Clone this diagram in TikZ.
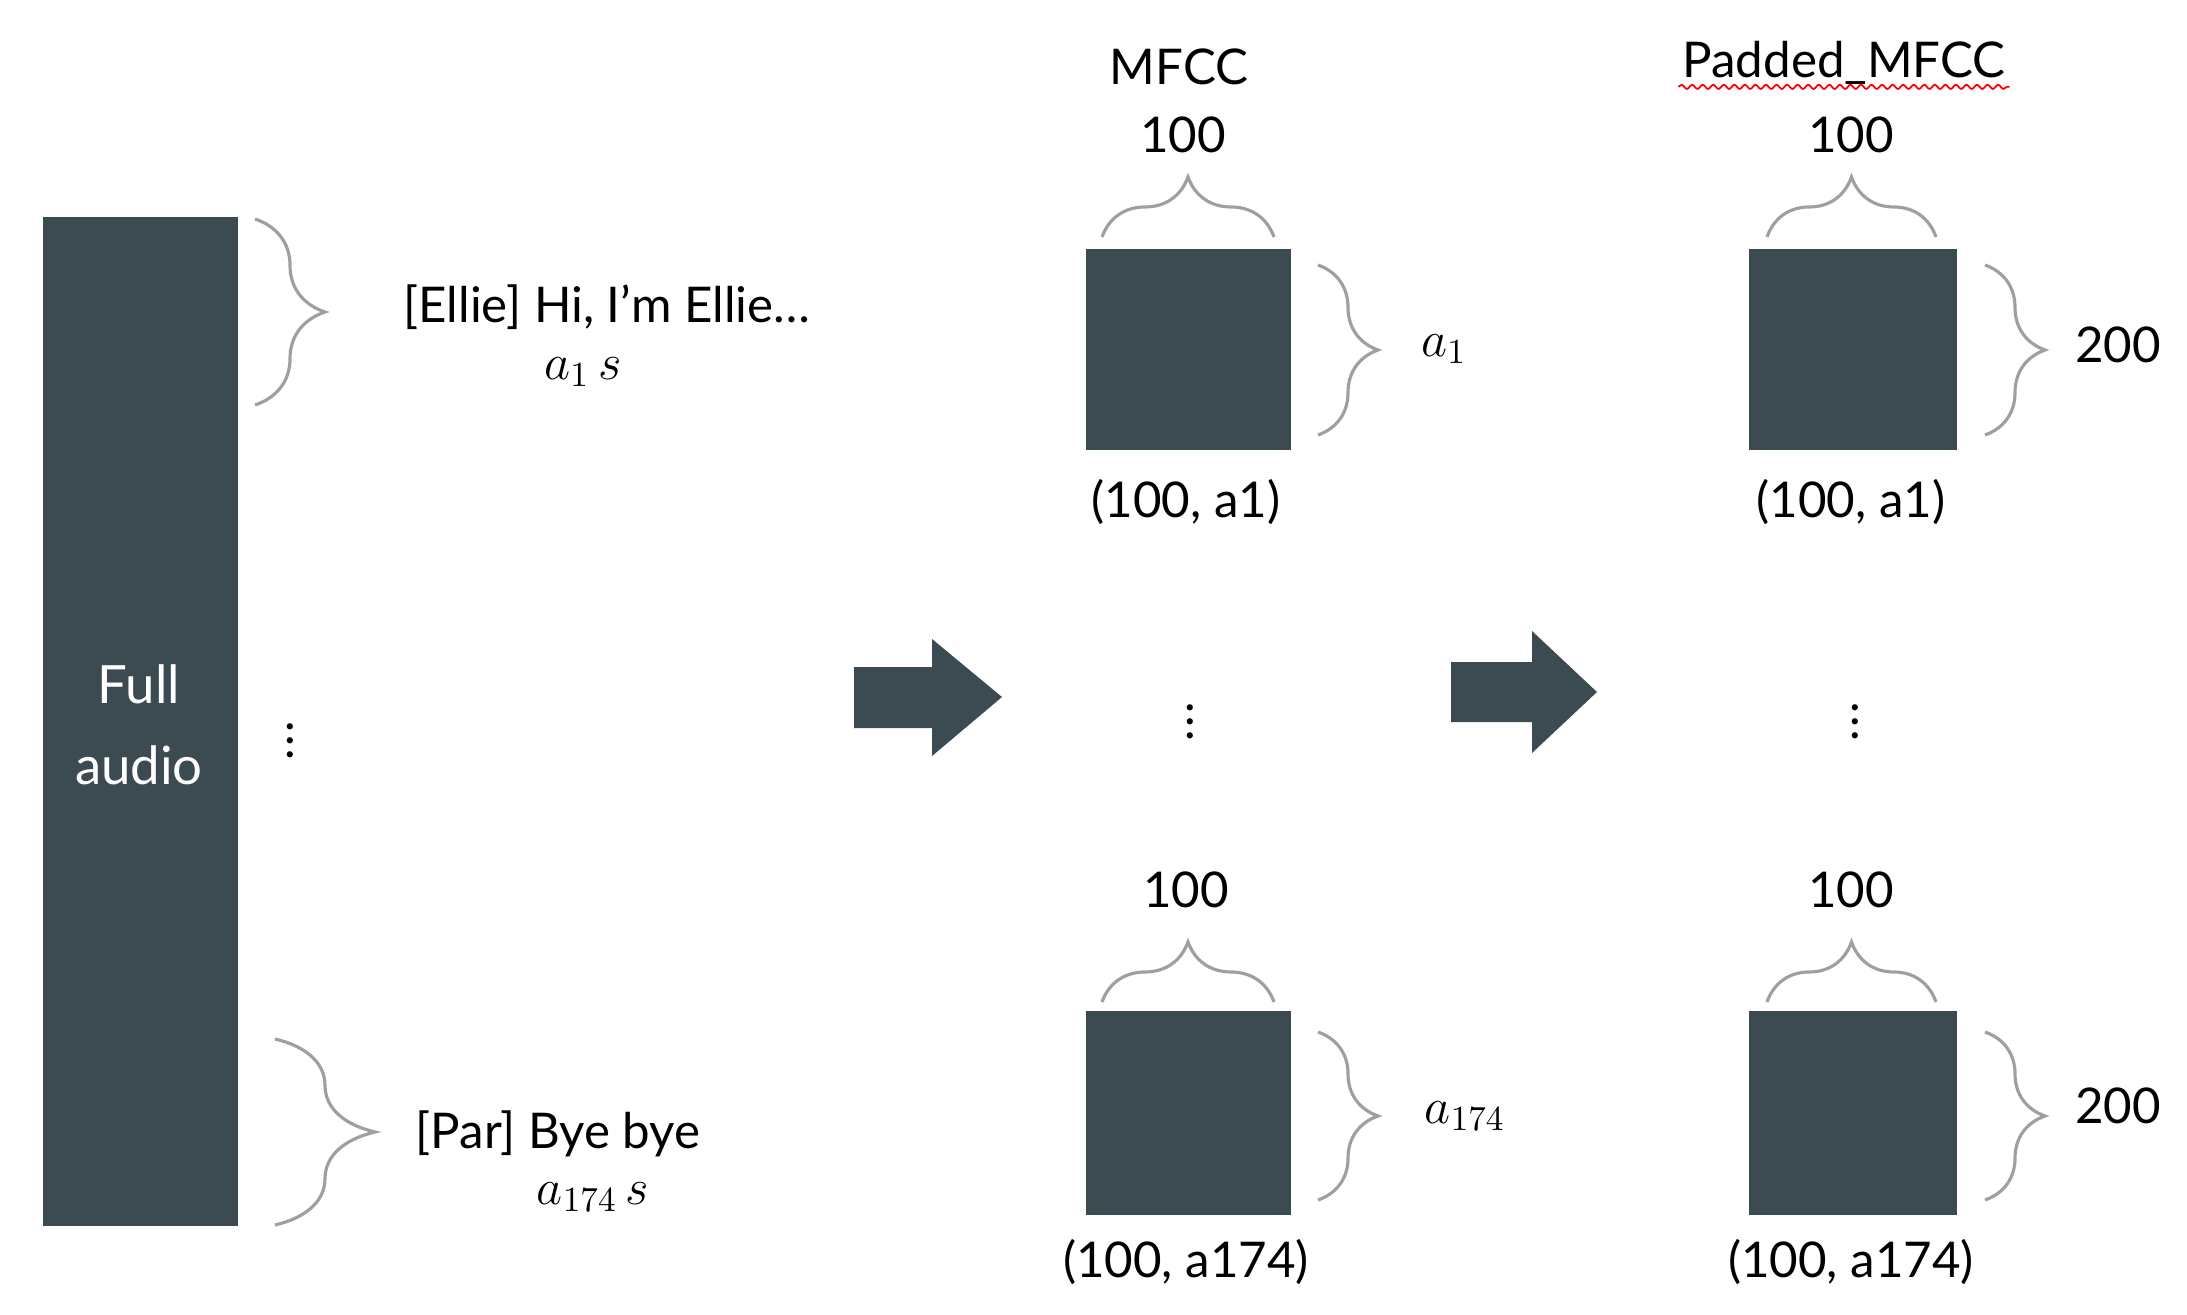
\documentclass[tikz,border=0pt]{standalone}
\usepackage{fontspec}
\setmainfont{Lato}
\usetikzlibrary{decorations.pathreplacing,decorations.pathmorphing,calc}
\definecolor{slate}{HTML}{3C4A51}
\tikzset{
  blk/.style={fill=slate,draw=none},
  txt/.style={font=\fontsize{14}{17}\selectfont,inner sep=1pt},
  brc/.style={draw=gray!75,line width=0.9pt,decorate,decoration={brace,amplitude=#1}},
  vd/.style={font=\fontsize{14}{17}\selectfont,inner sep=0pt}
}
\begin{document}
\begin{tikzpicture}[x=0.01cm,y=-0.01cm]
\useasboundingbox (0,0) rectangle (2187,1315);
% full audio
\node[blk,minimum width=1.95cm,minimum height=10.09cm,anchor=north west] (fa) at (42,216) {};
\node[txt,text=white,align=center,font=\fontsize{15}{23}\selectfont] (fat) at (139,725) {Full\\audio};
\coordinate (b1a) at (255,219); \coordinate (b1b) at (255,405);
\draw[brc=0.7cm] (b1a) -- (b1b);
\node[txt] (ellie) at (607,307) {[Ellie] Hi, I’m Ellie…};
\node[txt] (a1s) at (583,372) {$a_1\,s$};
\node[vd] (d0) at (290,730) {$\vdots$};
\coordinate (b2a) at (275,1039); \coordinate (b2b) at (275,1225);
\draw[brc=1cm] (b2a) -- (b2b);
\node[txt] (par) at (558,1134) {[Par] Bye bye};
\node[txt] (a174s) at (593,1197) {$a_{174}\,s$};
% arrows
\fill[slate] (854,667) -- (932,667) -- (932,639) -- (1002,697) -- (932,756) -- (932,728) -- (854,728) -- cycle;
\fill[slate] (1451,662) -- (1532,662) -- (1532,631) -- (1597,692) -- (1532,753) -- (1532,722) -- (1451,722) -- cycle;
% column 1
\node[txt] (mfcc) at (1179,67) {MFCC};
\node[txt] (h1) at (1183,135) {100};
\draw[brc=0.6cm] (1102,237) -- (1274,237);
\node[blk,minimum width=2.05cm,minimum height=2.01cm,anchor=north west] (m1) at (1085,248) {};
\draw[brc=0.6cm] (1318,265) -- (1318,435);
\node[txt] (ma1) at (1444,349) {$a_1$};
\node[txt] (s1) at (1186,502) {(100, a1)};
\node[vd] (d1) at (1190,711) {$\vdots$};
\node[txt] (h2) at (1186,890) {100};
\draw[brc=0.6cm] (1102,1002) -- (1274,1002);
\node[blk,minimum width=2.05cm,minimum height=2.04cm,anchor=north west] (m2) at (1085,1010) {};
\draw[brc=0.6cm] (1318,1032) -- (1318,1200);
\node[txt] (ma2) at (1465,1116) {$a_{174}$};
\node[txt] (s2) at (1186,1262) {(100, a174)};
% column 2
\node[txt] (pm) at (1844,63) {Padded\_MFCC};
\draw[red,line width=0.5pt,decorate,decoration={snake,amplitude=0.6pt,segment length=3pt}] ($(pm.south west)+(0,-2)$) -- ($(pm.south east)+(0,-2)$);
\node[txt] (h3) at (1851,135) {100};
\draw[brc=0.6cm] (1767,237) -- (1936,237);
\node[blk,minimum width=2.08cm,minimum height=2.01cm,anchor=north west] (p1) at (1748,248) {};
\draw[brc=0.6cm] (1985,265) -- (1985,435);
\node[txt] (w1) at (2118,345) {200};
\node[txt] (s3) at (1851,502) {(100, a1)};
\node[vd] (d2) at (1855,711) {$\vdots$};
\node[txt] (h4) at (1851,890) {100};
\draw[brc=0.6cm] (1767,1002) -- (1936,1002);
\node[blk,minimum width=2.08cm,minimum height=2.04cm,anchor=north west] (p2) at (1748,1010) {};
\draw[brc=0.6cm] (1985,1032) -- (1985,1200);
\node[txt] (w2) at (2118,1106) {200};
\node[txt] (s4) at (1851,1262) {(100, a174)};
\end{tikzpicture}
\end{document}
